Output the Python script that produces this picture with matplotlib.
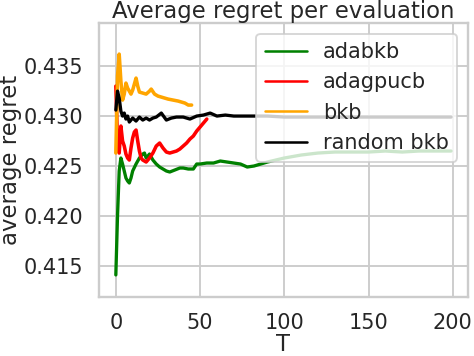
import matplotlib
matplotlib.use("Agg")
import matplotlib.pyplot as plt
import seaborn as sns

# average regret per evaluation
adabkb_t = [0, 1, 2, 3, 4, 5, 6, 7, 8, 9, 10, 12, 14, 16, 17, 18, 20, 22, 24, 26,
            28, 30, 32, 35, 38, 40, 43, 46, 48, 50, 54, 58, 62, 66, 70, 74, 78, 82,
            90, 100, 110, 120, 130, 140, 150, 160, 170, 180, 190, 199]
adabkb = [0.4141, 0.4200, 0.4245, 0.4258, 0.4252, 0.4245, 0.4238, 0.4235, 0.4233, 0.4238,
          0.4245, 0.4252, 0.4258, 0.4262, 0.4263, 0.4258, 0.4262, 0.4256, 0.4252, 0.4249,
          0.4247, 0.4245, 0.4244, 0.4246, 0.4248, 0.4248, 0.4247, 0.4247, 0.4252, 0.4252,
          0.4253, 0.4253, 0.4255, 0.4254, 0.4253, 0.4252, 0.4249, 0.4250,
          0.4254, 0.4258, 0.4261, 0.4263, 0.4264, 0.4264, 0.4264, 0.4265, 0.4264, 0.4265,
          0.4265, 0.4265]

adagpucb_t = [0, 1, 2, 3, 4, 5, 6, 7, 8, 9, 10, 11, 12, 13, 14, 15, 16, 18, 19, 20,
              22, 24, 26, 28, 30, 32, 34, 36, 38, 40, 42, 44, 46, 48, 50, 52, 54]
adagpucb = [0.4330, 0.4275, 0.4263, 0.4290, 0.4275, 0.4270, 0.4262, 0.4258, 0.4256, 0.4268,
            0.4278, 0.4284, 0.4286, 0.4275, 0.4265, 0.4258, 0.4256, 0.4254, 0.4256, 0.4258,
            0.4263, 0.4270, 0.4273, 0.4268, 0.4264, 0.4263, 0.4264, 0.4265, 0.4267, 0.4270,
            0.4273, 0.4277, 0.4280, 0.4285, 0.4289, 0.4293, 0.4297]

bkb_t = [0, 1, 2, 3, 4, 5, 6, 7, 8, 9, 10, 11, 12, 13, 14, 16, 18, 20, 21, 23,
         25, 27, 29, 31, 34, 37, 39, 41, 43, 45]
bkb = [0.4263, 0.4340, 0.4362, 0.4335, 0.4316, 0.4322, 0.4333, 0.4328, 0.4325, 0.4322,
       0.4326, 0.4332, 0.4338, 0.4330, 0.4324, 0.4323, 0.4322, 0.4325, 0.4327, 0.4322,
       0.4320, 0.4319, 0.4318, 0.4317, 0.4316, 0.4315, 0.4314, 0.4313, 0.4311, 0.4311]

random_bkb_t = [0, 1, 2, 3, 4, 5, 6, 7, 8, 9, 10, 12, 14, 16, 18, 20, 22, 24, 27, 30,
                33, 36, 40, 44, 48, 52, 56, 60, 65, 70, 75, 80, 90, 100, 120, 140, 160,
                180, 199]
random_bkb = [0.4306, 0.4325, 0.4318, 0.4305, 0.4300, 0.4303, 0.4297, 0.4300, 0.4294, 0.4296,
              0.4298, 0.4295, 0.4299, 0.4296, 0.4298, 0.4296, 0.4298, 0.4299, 0.4303, 0.4296,
              0.4298, 0.4299, 0.4299, 0.4297, 0.4300, 0.4301, 0.4303, 0.4300, 0.4301, 0.4300,
              0.4300, 0.4300, 0.4300, 0.4299, 0.4299, 0.4299, 0.4299, 0.4299, 0.4299]

sns.set_theme(style="whitegrid", context="talk")

fig = plt.figure(figsize=(474 / 91, 356 / 91), dpi=91)
ax = fig.add_subplot(111)
fig.subplots_adjust(left=0.209, right=0.987, top=0.935, bottom=0.166)

ax.plot(adabkb_t, adabkb, color="green", lw=2.6, label="adabkb")
ax.plot(adagpucb_t, adagpucb, color="red", lw=2.8, label="adagpucb")
ax.plot(bkb_t, bkb, color="orange", lw=2.8, label="bkb")
ax.plot(random_bkb_t, random_bkb, color="black", lw=2.6, label="random bkb")

ax.set_ylim(0.4119, 0.4393)
ax.set_xticks([0, 50, 100, 150, 200])
ax.set_yticks([0.415, 0.420, 0.425, 0.430, 0.435])
ax.set_xlabel("T", labelpad=0)
ax.set_ylabel("average regret", labelpad=1)
ax.set_title("Average regret per evaluation", pad=4)
leg = ax.legend(loc="upper right")
for h in leg.get_lines():
    h.set_linewidth(2)

fig.savefig("out.png", dpi=91)
